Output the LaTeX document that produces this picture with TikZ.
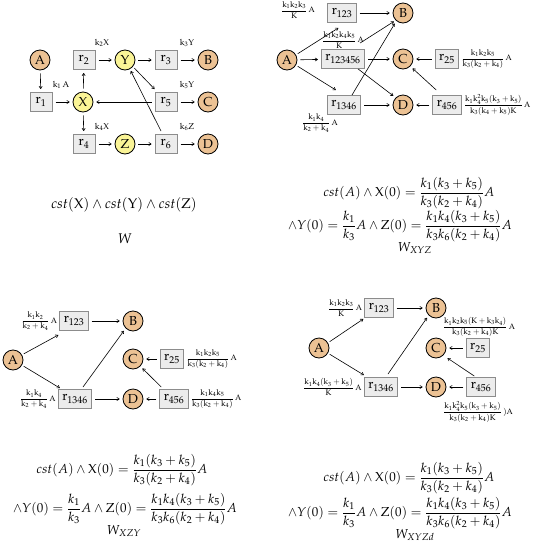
\documentclass[tikz,border=0pt]{standalone}
\usepackage[T1]{fontenc}
\usepackage{mathpazo}
\usepackage{amsmath}
\usetikzlibrary{arrows.meta,calc}
\definecolor{orng}{RGB}{236,194,148}
\definecolor{ylw}{RGB}{250,244,150}
\definecolor{boxfill}{RGB}{236,236,236}
\definecolor{boxdraw}{RGB}{140,140,140}
\tikzset{
  sp/.style={circle, draw=black, line width=0.8pt, minimum size=20pt, inner sep=0pt, font=\fontsize{13}{13}\selectfont},
  ext/.style={sp, fill=orng},
  int/.style={sp, fill=ylw},
  rx/.style={rectangle, draw=boxdraw, fill=boxfill, line width=1pt, minimum height=19pt, minimum width=22pt, inner xsep=4pt, inner ysep=0pt, font=\fontsize{13}{13}\selectfont},
  lbl/.style={font=\fontsize{8}{9}\selectfont, inner sep=1pt},
  lblbig/.style={font=\fontsize{8.5}{9}\selectfont, inner sep=1pt},
  arr/.style={-{To[length=3pt,width=3.6pt]}, line width=0.6pt, shorten <=3pt, shorten >=3pt},
  darr/.style={-{To[length=3pt,width=3.6pt]}, line width=0.6pt},
  eq/.style={font=\fontsize{13}{15}\selectfont, inner sep=0pt},
  eqbig/.style={font=\fontsize{14}{16}\selectfont, inner sep=0pt}
}
\begin{document}
\begin{tikzpicture}[x=1pt,y=-1pt]
\useasboundingbox (0,0) rectangle (536,550);
% ---------------- top left ----------------
\node[ext] (aA) at (40,60) {A};
\node[rx] (ar1) at (41,102) {r$_1$};
\node[int] (aX) at (83,102) {X};
\node[rx] (ar2) at (84,60) {r$_2$};
\node[int] (aY) at (125,60) {Y};
\node[rx] (ar3) at (166,60) {r$_3$};
\node[ext] (aB) at (208,60) {B};
\node[rx] (ar5) at (166,102) {r$_5$};
\node[ext] (aC) at (208,102) {C};
\node[rx] (ar4) at (84,144) {r$_4$};
\node[int] (aZ) at (125,144) {Z};
\node[rx] (ar6) at (166,144) {r$_6$};
\node[ext] (aD) at (208,144) {D};
\node[lblbig] (la2) at (102,43) {$\mathrm{k_2X}$};
\node[lblbig] (la3) at (187,43) {$\mathrm{k_3Y}$};
\node[lblbig] (la1) at (61,85) {$\mathrm{k_1\,A}$};
\node[lblbig] (la5) at (187,85) {$\mathrm{k_5Y}$};
\node[lblbig] (la4) at (102,127) {$\mathrm{k_4X}$};
\node[lblbig] (la6) at (187,127) {$\mathrm{k_6Z}$};
\draw[arr] (aA) -- (ar1);
\draw[arr] (ar1) -- (aX);
\draw[arr] (aX) -- (ar2);
\draw[arr] (ar2) -- (aY);
\draw[arr] (aY) -- (ar3);
\draw[arr] (ar3) -- (aB);
\draw[arr] (ar5) -- (aX);
\draw[arr] (ar5) -- (aC);
\draw[arr] (aX) -- (ar4);
\draw[arr] (ar4) -- (aZ);
\draw[arr] (aZ) -- (ar6);
\draw[arr] (ar6) -- (aD);
\draw[darr, shorten <=2pt] (aY.-40) -- ($(ar5.north west)+(0,-3)$);
\draw[darr, shorten >=2pt] ($(ar6.north)+(-5,-3)$) -- (aY.-62);
\node[eqbig] (ea) at (124,205) {$cst(\mathrm{X})\wedge cst(\mathrm{Y})\wedge cst(\mathrm{Z})$};
\node[eqbig] (wa) at (125,239) {$W$};
% ---------------- top right ----------------
\node[ext] (bA) at (287,60) {A};
\node[rx] (br123) at (342,13) {r$_{123}$};
\node[ext] (bB) at (403,13) {B};
\node[rx] (br123456) at (343,59) {r$_{123456}$};
\node[ext] (bC) at (403,59) {C};
\node[rx] (br25) at (447,59) {r$_{25}$};
\node[rx] (br1346) at (344,105) {r$_{1346}$};
\node[ext] (bD) at (403,105) {D};
\node[rx] (br456) at (447,105) {r$_{456}$};
\node[lbl] (lb1) at (298,10) {$\dfrac{\mathrm{k_1k_2k_3}}{\mathrm{K}}\,\mathrm{A}$};
\node[lbl] (lb2) at (343,40) {$\dfrac{\mathrm{k_1k_2k_4k_5}}{\mathrm{K}}\,\mathrm{A}$};
\node[lbl, anchor=west] (lb3) at ($(br25.east)+(1,0)$) {$\dfrac{\mathrm{k_1k_2k_5}}{\mathrm{k_3(k_2+k_4)}}\,\mathrm{A}$};
\node[lbl, anchor=west] (lb4) at ($(br456.east)+(1,0)$) {$\dfrac{\mathrm{k_1k_4^2k_5(k_3+k_5)}}{\mathrm{k_3(k_4+k_5)K}}\,\mathrm{A}$};
\node[lbl] (lb5) at (320,123) {$\dfrac{\mathrm{k_1k_4}}{\mathrm{k_2+k_4}}\,\mathrm{A}$};
\draw[darr, shorten <=2pt] (bA.30) -- ($(br123.south west)+(11,5)$);
\draw[arr] (bA) -- (br123456);
\draw[darr, shorten <=2pt] (bA.-30) -- ($(br1346.north west)+(9,-5)$);
\draw[arr] (br123) -- (bB);
\draw[darr, shorten >=2pt] ($(br123456.north east)+(-5,-6)$) -- (bB.225);
\draw[arr] (br123456) -- (bC);
\draw[darr, shorten >=3pt] ($(br123456.south east)+(-7,0)$) -- (bD.135);
\draw[darr, shorten >=3pt] ($(br1346.north)+(8,0)$) -- (bB.230);
\draw[arr] (br1346) -- (bD);
\draw[arr] (br25) -- (bC);
\draw[arr] (br456) -- (bD);
\draw[darr, shorten >=3pt] ($(br456.north west)+(4,-5)$) -- (bC.-45);
\node[eq] (eb1) at (409,193) {$cst(A)\wedge \mathrm{X}(0)=\dfrac{k_1(k_3+k_5)}{k_3(k_2+k_4)}A$};
\node[eq] (eb2) at (400,226) {$\wedge Y(0)=\dfrac{k_1}{k_3}A\wedge \mathrm{Z}(0)=\dfrac{k_1k_4(k_3+k_5)}{k_3k_6(k_2+k_4)}A$};
\node[eq] (wb) at (415,248) {$W_{XYZ}$};
% ---------------- bottom left ----------------
\node[ext] (cA) at (13,360) {A};
\node[rx] (cr123) at (74,321) {r$_{123}$};
\node[ext] (cB) at (133,321) {B};
\node[ext] (cC) at (133,359) {C};
\node[rx] (cr25) at (172,359) {r$_{25}$};
\node[rx] (cr1346) at (75,399) {r$_{1346}$};
\node[ext] (cD) at (133,399) {D};
\node[rx] (cr456) at (174,399) {r$_{456}$};
\node[lbl, anchor=east] (lc1) at ($(cr123.west)+(-1,0)$) {$\dfrac{\mathrm{k_1k_2}}{\mathrm{k_2+k_4}}\,\mathrm{A}$};
\node[lbl, anchor=east] (lc2) at ($(cr1346.west)+(-1,0)$) {$\dfrac{\mathrm{k_1k_4}}{\mathrm{k_2+k_4}}\,\mathrm{A}$};
\node[lbl, anchor=west] (lc3) at ($(cr25.east)+(1,0)$) {$\dfrac{\mathrm{k_1k_2k_5}}{\mathrm{k_3(k_2+k_4)}}\,\mathrm{A}$};
\node[lbl, anchor=west] (lc4) at ($(cr456.east)+(1,0)$) {$\dfrac{\mathrm{k_1k_4k_5}}{\mathrm{k_3(k_2+k_4)}}\,\mathrm{A}$};
\draw[darr, shorten <=2pt] (cA.30) -- ($(cr123.south west)+(-1,4)$);
\draw[darr, shorten <=2pt] (cA.-30) -- ($(cr1346.north west)+(2,-1)$);
\draw[arr] (cr123) -- (cB);
\draw[darr, shorten >=3pt] ($(cr1346.north)+(8,-2)$) -- (cB.225);
\draw[arr] (cr1346) -- (cD);
\draw[arr] (cr25) -- (cC);
\draw[arr] (cr456) -- (cD);
\draw[darr, shorten >=3pt] ($(cr456.north west)+(2,-2)$) -- (cC.-45);
\node[eq] (ec1) at (122,470) {$cst(A)\wedge \mathrm{X}(0)=\dfrac{k_1(k_3+k_5)}{k_3(k_2+k_4)}A$};
\node[eq] (ec2) at (125,509) {$\wedge Y(0)=\dfrac{k_1}{k_3}A\wedge \mathrm{Z}(0)=\dfrac{k_1k_4(k_3+k_5)}{k_3k_6(k_2+k_4)}A$};
\node[eq] (wc) at (124,531) {$W_{XZY}$};
% ---------------- bottom right ----------------
\node[ext] (dA) at (319,348) {A};
\node[rx] (dr123) at (379,308) {r$_{123}$};
\node[ext] (dB) at (436,308) {B};
\node[ext] (dC) at (436,348) {C};
\node[rx] (dr25) at (478,348) {r$_{25}$};
\node[rx] (dr1346) at (381,387) {r$_{1346}$};
\node[ext] (dD) at (436,387) {D};
\node[rx] (dr456) at (481,387) {r$_{456}$};
\node[lbl, anchor=east] (ld1) at ($(dr123.west)+(-1,0)$) {$\dfrac{\mathrm{k_1k_2k_3}}{\mathrm{K}}\,\mathrm{A}$};
\node[lbl, anchor=east] (ld2) at ($(dr1346.west)+(-1,0)$) {$\dfrac{\mathrm{k_1k_4(k_3+k_5)}}{\mathrm{K}}\,\mathrm{A}$};
\node[lbl] (ld3) at (479,327) {$\dfrac{\mathrm{k_1k_2k_5(K+k_3k_4)}}{\mathrm{k_3(k_2+k_4)K}}\,\mathrm{A}$};
\node[lbl] (ld4) at (478,412) {$\dfrac{\mathrm{k_1k_4^2k_5(k_3+k_5)}}{\mathrm{k_3(k_2+k_4)K}}\,\mathrm{)A}$};
\draw[darr, shorten <=2pt] (dA.30) -- ($(dr123.south west)+(-1,1)$);
\draw[darr, shorten <=2pt] (dA.-30) -- ($(dr1346.north west)+(0,-2)$);
\draw[arr] (dr123) -- (dB);
\draw[darr, shorten >=3pt] ($(dr1346.north)+(7,-3)$) -- (dB.225);
\draw[arr] (dr1346) -- (dD);
\draw[arr] (dr25) -- (dC);
\draw[arr] (dr456) -- (dD);
\draw[darr, shorten >=5pt] ($(dr456.north west)+(8,-1)$) -- (dC.-45);
\node[eq] (ed1) at (409,478) {$cst(A)\wedge \mathrm{X}(0)=\dfrac{k_1(k_3+k_5)}{k_3(k_2+k_4)}A$};
\node[eq] (ed2) at (400,513) {$\wedge Y(0)=\dfrac{k_1}{k_3}A\wedge \mathrm{Z}(0)=\dfrac{k_1k_4(k_3+k_5)}{k_3k_6(k_2+k_4)}A$};
\node[eq] (wd) at (415,535) {$W_{XYZd}$};
\end{tikzpicture}
\end{document}
